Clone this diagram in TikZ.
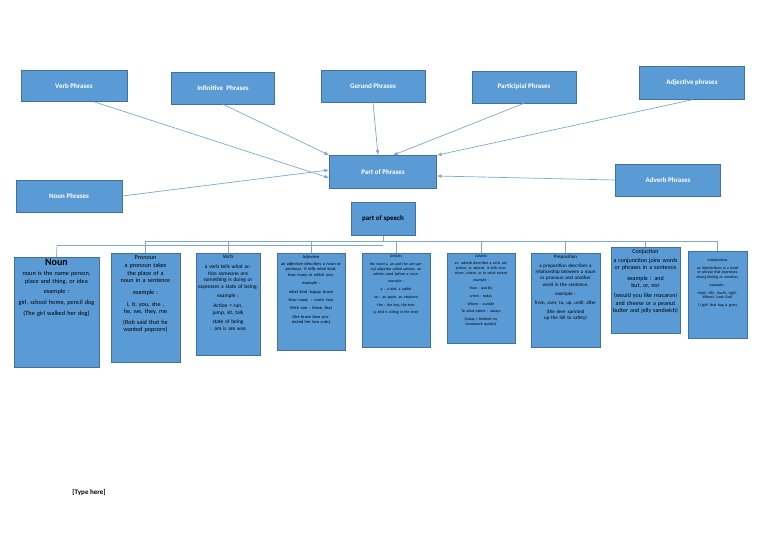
\documentclass[tikz,border=0pt]{standalone}
\usepackage{fontspec}
\setmainfont{Carlito}
\begin{document}
\begin{tikzpicture}[x=1pt,y=-1pt,
 bx/.style={draw=boxline,fill=boxfill,line width=0.6pt,inner sep=1pt,align=center},
 hd/.style={font=\fontsize{7}{8}\selectfont\bfseries,text=white},
 bb/.style={draw=boxline,fill=boxfill,line width=0.6pt},
 cn/.style={draw=linec,line width=0.7pt},
 ar/.style={cn,-latex}]
\definecolor{boxfill}{HTML}{5B9BD5}
\definecolor{boxline}{HTML}{41719C}
\definecolor{linec}{HTML}{7FA7D2}
\useasboundingbox (0,0) rectangle (768,543);
% #1 name, #2 x1, #3 y1, #4 x2, #5 y2, #6 font size, #7 text
\newcommand{\tb}[7]{%
 \path[bb] (#2,#3) rectangle (#4,#5);
 \coordinate (#1) at ({(#2+#4)/2},#3);
 \node[anchor=north,inner sep=0pt,text width={#4-#2-4},align=center,font=\fontsize{#6}{\dimexpr #6pt*122/100\relax}\selectfont] (#1t) at ({(#2+#4)/2},#3+2) {#7};}
% top boxes
\node[bx,hd,minimum width=106,minimum height=31] (vp) at (74,86) {Verb Phrases};
\node[bx,hd,minimum width=103,minimum height=32] (ip) at (223,88) {Infinitive\ \ Phrases};
\node[bx,hd,minimum width=104,minimum height=32] (gp) at (373,86) {Gerund Phrases};
\node[bx,hd,minimum width=104,minimum height=32] (pp) at (524,87) {Participial Phrases};
\node[bx,hd,minimum width=105,minimum height=33] (ap) at (692,83) {Adjective phrases};
\node[bx,hd,minimum width=107,minimum height=33] (part) at (383,172) {Part of Phrases};
\node[bx,hd,minimum width=106,minimum height=32] (np) at (69,196) {Noun Phrases};
\node[bx,hd,minimum width=105,minimum height=32] (advp) at (668,180) {Adverb Phrases};
\node[bx,font=\fontsize{7}{8}\selectfont\bfseries,minimum width=64,minimum height=33] (pos) at (383,219) {part of speech};
\draw[ar] ([xshift=20]vp.south) -- ([yshift=-6]part.west);
\draw[ar] (ip.south) -- (part.north west);
\draw[ar] (gp.south) -- ([xshift=-5]part.north);
\draw[ar] (pp.south) -- ([xshift=10]part.north);
\draw[ar] (ap.south) -- (part.north east);
\draw[ar] (np.east) -- ([yshift=2]part.west);
\draw[ar] (advp.west) -- ([yshift=-4]part.east);
% bottom boxes
\tb{noun}{14}{257}{99}{367}{6.3}{{\fontsize{10}{12}\selectfont\bfseries Noun}\\[2pt] noun is the name person, place and thing, or idea\\[3pt] example :\\[3pt] girl, school home, pencil dog\\[3pt] (The girl walked her dog)}
\tb{pron}{111}{253}{180}{362}{6.2}{Pronoun\\[1pt] a pronoun takes the place of a noun in a sentence\\[4pt] example :\\[4pt] i, it, you, she , he, we, they, me\\[3pt] (Rob said that he wanted popcorn)}
\tb{verb}{196}{253}{260}{355}{5.4}{Verb\\[3pt] a verb tells what action someone ore something is doing or expresses a state of being.\\[3pt] example :\\[3pt] Action = run, jump, sit, talk\\[3pt] state of being : am is are was}
\tb{adj}{277}{253}{345}{350}{4.4}{Adjective\\[2pt] an adjective describes a noun or pronoun. it tells what kind, how many or which one.\\[3pt] example :\\[3pt] what kind :happy, brave\\[3pt] How many\ \ : more, two\\[3pt] Wich one : these, that\\[3pt] (the brave bear protected her two cubs)}
\tb{art}{362}{253}{430}{347}{3.9}{Articles\\[3pt] the word a, an and the are special adjective called articles. an articles used before a noun.\\[3pt] example :\\[3pt] a : a bird, a rabbit\\[3pt] an : an apple, an elephant\\[3pt] the : the boy, the tree\\[3pt] (a bird is sitting in the tree)}
\tb{adv}{447}{253}{515}{343}{3.9}{Adverb\\[2pt] an\ \ adverb describes a verb, adjective, or adverb. it tells how, when, where, or to what extent\\[3pt] example :\\[3pt] How : quickly\\[3pt] when : today\\[3pt] Where : outside\\[3pt] To what extent : always\\[3pt] (today, i finished my homework quickly)}
\tb{prep}{531}{253}{600}{347}{5.0}{Preposition\\[3pt] a preposition describes a relationship between a noun or pronoun and another word in the sentence.\\[3pt] example :\\[3pt] from, over, to, up, until, after\\[3pt] (the deer sprinted up the hill to safety)}
\tb{conj}{611}{247}{680}{333}{6.0}{Conjuction\\[2pt] a conjunction joins words or phrases in a sentence\\[3pt] example : and but, or, nor\\[3pt] (would you like macaroni and cheese or a peanut butter and jelly sandwich)}
\tb{intj}{688}{251}{747}{338}{3.9}{\strut\\ Interjections\\[3pt] an interjections is a word or phrase that expresses strong feeling or emotion.\\[3pt] example :\\[3pt] Help!, Oh!, Ouch!, Ugh!, Whew!, Look Out!\\[3pt] ( Ugh! that bug is gross}
% tree
\coordinate (t1) at (383,241);
\draw[cn] (pos.south) -- (t1);
\draw[cn] (145.5,241) -- (717.5,241);
\draw[cn] (57,245) -- (383,245);
\foreach \n/\x in {pron/145.5,verb/228,adj/311,art/396,adv/481,prep/565.5,conj/645.5,intj/717.5}{\draw[cn] (\x,241) -- (\n);}
\draw[cn] (57,245) -- (noun);
\node[font=\fontsize{7}{8}\selectfont\bfseries] (th) at (89,492) {[Type here]};
\end{tikzpicture}
\end{document}
